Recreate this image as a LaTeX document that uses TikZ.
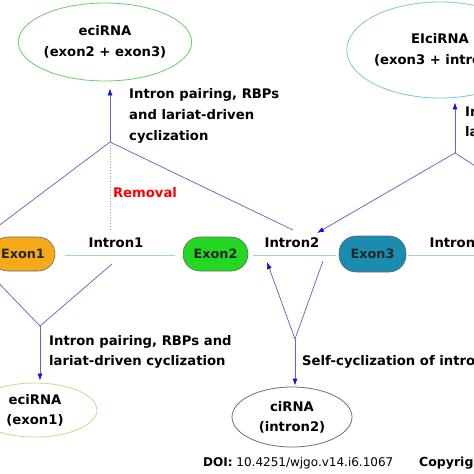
\documentclass[tikz,border=0pt]{standalone}
\usepackage{fontspec}
\setmainfont{DejaVu Sans}
\usepackage{xcolor}
\usepackage{tikz}
\usetikzlibrary{shapes,arrows,arrows.meta}
\usetikzlibrary{positioning,calc}
\definecolor{arancio}{RGB}{245,170,25}
\definecolor{verde}{RGB}{35,215,35}
\definecolor{ottanio}{RGB}{25,140,175}
\definecolor{linblu}{RGB}{105,100,200}
\definecolor{punta}{RGB}{20,20,215}
\definecolor{introcol}{RGB}{165,205,220}
\definecolor{elverde}{RGB}{110,200,110}
\definecolor{elceleste}{RGB}{130,195,215}
\definecolor{elsabbia}{RGB}{225,205,140}
\definecolor{elgrigio}{RGB}{110,110,110}
\colorlet{grig}{gray!75}
\tikzset{%
  esone/.style={%
    draw=black!60, line width=0.6pt, rounded corners=17pt,
    minimum width=#1, minimum height=34pt, inner sep=0pt,
    text=black!85, font=\fontsize{12.8}{15}\selectfont\bfseries
  },
  introne/.style={draw=introcol,line width=0.8pt},
  ramo/.style={draw=linblu,line width=0.75pt},
  freccia/.style={ramo,-{Latex[length=7pt,width=5pt,color=punta]}},
  punteggiata/.style={draw=grig,dotted,line width=0.8pt},
  cerchio/.style={%
    ellipse, draw=#1, line width=0.8pt, inner sep=0pt, align=center,
    font=\fontsize{13.2}{21}\selectfont\bfseries
  },
  etichetta/.style={%
    anchor=west, align=left, inner sep=0pt,
    font=\fontsize{13.2}{21}\selectfont\bfseries
  },
  nome/.style={inner sep=0pt,font=\fontsize{13.2}{16}\selectfont\bfseries}
}

\begin{document}
\begin{tikzpicture}[x=1pt,y=-1pt]
\useasboundingbox (0,0) rectangle (474,474);
\clip (0,0) rectangle (474,474);

% esoni e introni
\node[esone=64pt,fill=arancio] (ex1) at (23,254) {Exon1};
\node[esone=65pt,fill=verde] (ex2) at (215.5,254) {Exon2};
\node[esone=67pt,fill=ottanio,minimum height=36pt] (ex3) at (372.5,254) {Exon3};
\draw[introne] ([xshift=10pt,yshift=-1.5pt]ex1.east) -- ([xshift=-8pt,yshift=-1.5pt]ex2.west);
\draw[introne] ([xshift=5pt,yshift=-1.5pt]ex2.east) -- ([xshift=-3pt,yshift=-1.5pt]ex3.west);
\draw[introne] ([xshift=2pt,yshift=-1.5pt]ex3.east) -- ++(90,0);
\node[nome] (in1) at (116,243) {Intron1};
\node[nome] (in2) at (292,243) {Intron2};
\node[nome] (in3) at (457,243) {Intron3};

% prodotti circolari
\node[cerchio=elverde,minimum width=156pt,minimum height=78pt] (eci23) at (105,42) {eciRNA\\(exon2 + exon3)};
\node[cerchio=elceleste,minimum width=172pt,minimum height=96pt] (eici) at (440,50) {EIciRNA\\(exon3 + intron3)};
\node[cerchio=elsabbia,minimum width=124pt,minimum height=54pt,font=\fontsize{13.2}{20}\selectfont\bfseries] (eci1) at (35,410) {eciRNA\\(exon1)};
\node[cerchio=elgrigio,minimum width=120pt,minimum height=60pt,font=\fontsize{13.2}{20}\selectfont\bfseries] (ci) at (292,417) {ciRNA\\(intron2)};

% exon2 + exon3
\coordinate (ap1) at (110,142);
\coordinate (sx1) at (-15,236);
\coordinate (dx1) at (293,230);
\coordinate (rim) at (110,229);
\draw[ramo] (sx1) -- (ap1) -- (dx1);
\draw[freccia,shorten >=7pt] (ap1) -- (ap1 |- eci23.south);
\draw[punteggiata] (ap1) -- (rim);
\node[nome,text=red] (rem) at (145,193) {Removal};
\node[etichetta] (lab1) at (129,116) {Intron pairing, RBPs\\and lariat-driven\\cyclization};

% exon3 + intron3
\coordinate (ap2) at (455,153);
\coordinate (dx2) at (505,185);
\coordinate (t2) at (317,233);
\draw[ramo] (ap2) -- (dx2);
\draw[freccia] (ap2) -- (t2);
\draw[freccia,shorten >=4pt] (ap2) -- (ap2 |- eici.south);
\node[etichetta,font=\fontsize{13.2}{20}\selectfont\bfseries] (lab2) at (465,123) {Intron pairing, RBPs and\\lariat-driven cyclization};

% exon1
\coordinate (ap3) at (40,326);
\coordinate (sx3) at (-12,272);
\coordinate (dx3) at (112,264);
\draw[ramo] (sx3) -- (ap3) -- (dx3);
\draw[freccia,shorten >=2pt] (ap3) -- (ap3 |- eci1.north);
\node[etichetta,font=\fontsize{13.2}{20}\selectfont\bfseries] (lab3) at (49,352) {Intron pairing, RBPs and\\lariat-driven cyclization};

% intron2
\coordinate (ap4) at (295,339);
\coordinate (t4) at (267,262);
\coordinate (dx4) at (323,261);
\draw[ramo] (ap4) -- (dx4);
\draw[freccia] (ap4) -- (t4);
\draw[freccia,shorten >=1pt] (ap4) -- (ap4 |- ci.north);
\node[etichetta] (lab4) at (302,362) {Self-cyclization of intron2};

% DOI
\node[anchor=west,inner sep=0pt,font=\fontsize{12}{14}\selectfont] (doi) at (203,463) {\textbf{DOI:} 10.4251/wjgo.v14.i6.1067};
\node[anchor=west,inner sep=0pt,font=\fontsize{12.5}{14}\selectfont\bfseries] (copy) at (419,463) {Copyright};
\end{tikzpicture}
\end{document}
